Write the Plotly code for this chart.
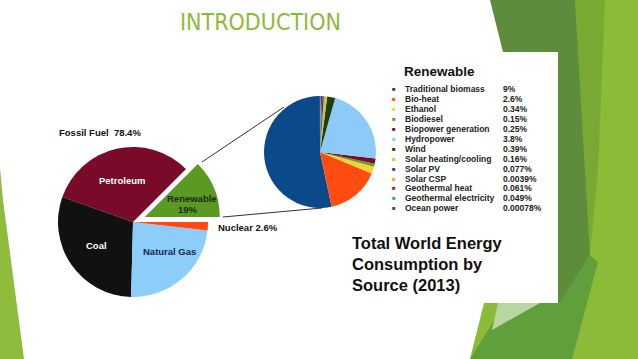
import plotly.graph_objects as go

W, H = 638, 359

# ---------------- data ----------------
# slice sizes as drawn in the picture (the printed shares are kept as label text)
main_labels = ["Renewable", "Petroleum", "Coal", "Natural Gas", "Nuclear"]
main_values = [12.5, 32.1, 30.0, 23.6, 1.8]
main_colors = ["#5a9a22", "#7a0a2a", "#111111", "#8ccdfa", "#ff4a14"]
main_pull = [0.17, 0, 0, 0, 0]
share_fossil = 78.4
share_renewable = 19
share_nuclear = 2.6

ren_labels = ["Traditional biomass", "Bio-heat", "Ethanol", "Biodiesel",
              "Biopower generation", "Hydropower", "Wind",
              "Solar heating/cooling", "Solar PV", "Solar CSP",
              "Geothermal heat", "Geothermal electricity", "Ocean power"]
ren_values = [9, 2.6, 0.34, 0.15, 0.25, 3.8, 0.39, 0.16, 0.077, 0.0039,
              0.061, 0.049, 0.00078]
ren_colors = ["#0b4a8a", "#ff4d12", "#f7d230", "#5aa02c", "#7a0c2a",
              "#8ccbf7", "#223c10", "#b5d232", "#5a2d8e", "#f5a03a",
              "#c0161e", "#2e9ad6", "#1f4e8c"]


def X(px):
    return px / W


def Y(py):
    return 1 - py / H


def poly(pts, color):
    d = "M " + " L ".join(f"{X(x):.5f},{Y(y):.5f}" for x, y in pts) + " Z"
    return dict(type="path", xref="paper", yref="paper", path=d,
                fillcolor=color, line=dict(width=0), layer="below")


fig = go.Figure()

# main pie: centre (133,222), radius 75 (domain enlarged for the pull)
cx, cy, half = 133, 222, 75 * 1.17
fig.add_trace(go.Pie(
    labels=main_labels, values=main_values, sort=False,
    direction="counterclockwise", rotation=45, pull=main_pull,
    marker=dict(colors=main_colors, line=dict(width=0)),
    textinfo="none", hoverinfo="label", showlegend=False,
    domain=dict(x=[X(cx - half), X(cx + half)], y=[Y(cy + half), Y(cy - half)]),
))

# renewable breakdown pie: centre (320,152), radius 56
rx, ry, rr = 320, 152, 56
fig.add_trace(go.Pie(
    labels=ren_labels, values=ren_values, sort=False,
    direction="counterclockwise", rotation=168,
    marker=dict(colors=ren_colors, line=dict(width=0)),
    textinfo="none", hoverinfo="label+value", showlegend=False,
    domain=dict(x=[X(rx - rr), X(rx + rr)], y=[Y(ry + rr), Y(ry - rr)]),
))

shapes = [
    poly([(470, 359), (560, 0), (638, 0), (638, 359)], "#8bbb37"),
    poly([(575, 0), (605, 0), (598, 170), (590, 255)], "#79a932"),
    poly([(490, 0), (575, 0), (590, 255), (560, 303), (510, 303), (503, 52)], "#5c8c3c"),
    poly([(470, 359), (505, 303), (560, 303), (590, 255), (598, 262), (572, 359)], "#5fa03a"),
    poly([(498, 303), (540, 303), (492, 330)], "#b9d5a0"),
    poly([(0, 168), (3, 200), (24, 359), (0, 359)], "#8fbc3c"),
    dict(type="rect", xref="paper", yref="paper", x0=X(385), x1=X(558),
         y0=Y(303), y1=Y(52), fillcolor="white", line=dict(width=0), layer="below"),
    dict(type="line", xref="paper", yref="paper", x0=X(202), y0=Y(162),
         x1=X(284), y1=Y(107), line=dict(color="#333333", width=1)),
    dict(type="line", xref="paper", yref="paper", x0=X(223), y0=Y(217),
         x1=X(322), y1=Y(208), line=dict(color="#333333", width=1)),
]

ann = []
BOLD = "Liberation Sans"


def txt(x, y, s, size, color="#111111", xanchor="center", family=BOLD, bold=True):
    ann.append(dict(x=X(x), y=Y(y), xref="paper", yref="paper", text=(f"<b>{s}</b>" if bold else s),
                    showarrow=False, xanchor=xanchor, yanchor="middle",
                    font=dict(family=family, size=size, color=color)))


txt(260, 22, "INTRODUCTION", 23, color="#8cbb3a", family="Liberation Sans Narrow, DejaVu Sans Condensed", bold=False)
txt(57, 133, f"Fossil Fuel  {share_fossil:g}%", 9.5, xanchor="left")
txt(122, 180, main_labels[1], 9.5, color="white")
txt(192, 199, main_labels[0], 9.5, color="#1c2a12")
txt(188, 209, f"{share_renewable:g}%", 9.5, color="#1c2a12")
txt(216, 227, f"{main_labels[4]} {share_nuclear:g}%", 9.5, xanchor="left")
txt(96, 245, main_labels[2], 9.5, color="white")
txt(169, 252, main_labels[3], 9.5, color="#1a2550")

# legend
txt(402, 72, "Renewable", 13.5, xanchor="left")
for i, (lab, val, col) in enumerate(zip(ren_labels, ren_values, ren_colors)):
    yy = 89 + i * 9.95
    txt(394, yy, "■", 6, color=col, bold=False)
    txt(403, yy, lab, 8.5, color="#222222", xanchor="left")
    txt(501, yy, f"{val:g}%", 8.5, color="#222222", xanchor="left")

txt(350, 243, "Total World Energy", 16.5, xanchor="left")
txt(350, 264, "Consumption by", 16.5, xanchor="left")
txt(350, 285, "Source (2013)", 16.5, xanchor="left")

fig.update_layout(
    width=W, height=H, margin=dict(l=0, r=0, t=0, b=0),
    paper_bgcolor="white", plot_bgcolor="white",
    shapes=shapes, annotations=ann, showlegend=False,
)
fig.write_html("out.html", config={"displayModeBar": False},
               post_script="document.body.style.margin='0';")
